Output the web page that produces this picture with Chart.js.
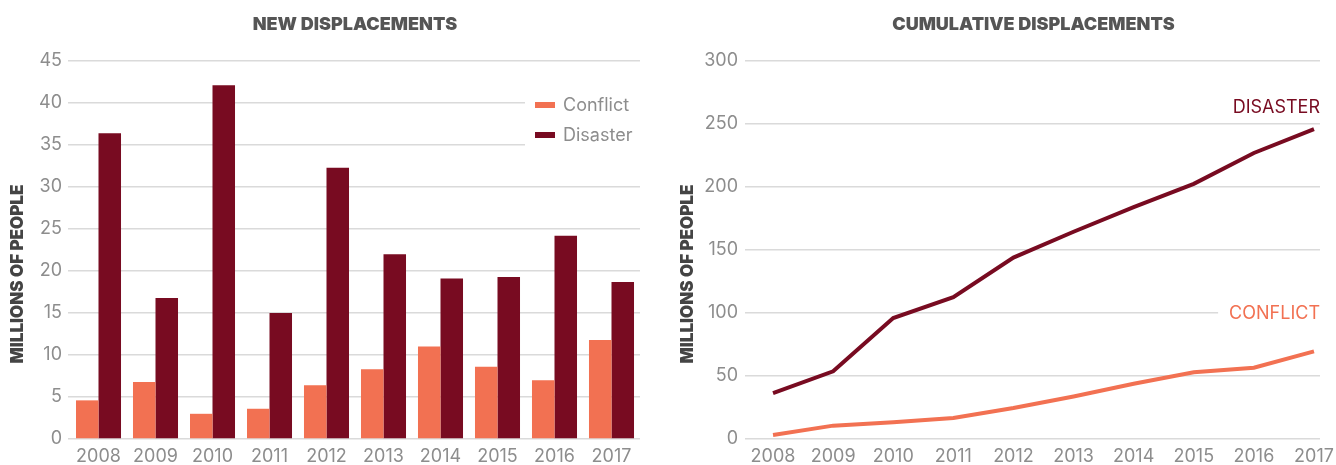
<!DOCTYPE html>
<html>
<head>
<meta charset="utf-8">
<title>Displacements</title>
<script src="https://cdn.jsdelivr.net/npm/chart.js@4.4.0/dist/chart.umd.min.js"></script>
<style>
  body { margin: 0; background: #fff; }
  .row { display: flex; width: 1336px; height: 465px; }
  .panel { position: relative; width: 668px; height: 465px; }
</style>
</head>
<body>
<div class="row">
  <div class="panel"><canvas id="newChart"></canvas></div>
  <div class="panel"><canvas id="cumChart"></canvas></div>
</div>
<script>
// data (millions of people)
const YEARS = [2008, 2009, 2010, 2011, 2012, 2013, 2014, 2015, 2016, 2017];
const NEW_CONFLICT = [4.6, 6.8, 3.0, 3.6, 6.4, 8.3, 11.0, 8.6, 7.0, 11.8];
const NEW_DISASTER = [36.4, 16.8, 42.1, 15.0, 32.3, 22.0, 19.1, 19.3, 24.2, 18.7];
const CUM_CONFLICT = [3.2, 10.6, 13.2, 16.7, 24.6, 33.8, 43.9, 52.9, 56.6, 69.5];
const CUM_DISASTER = [36.5, 53.7, 96.0, 112.5, 144.0, 164.5, 184.0, 202.5, 227.0, 246.0];
const NEW_TICKS = [0, 5, 10, 15, 20, 25, 30, 35, 40, 45];
const CUM_TICKS = [0, 50, 100, 150, 200, 250, 300];

const C_CONFLICT = '#f27152';
const C_DISASTER = '#780b21';
const GRID = '#dadada';
const TICK = '#8d8d8d';
const FONT = 'Inter, "Open Sans", sans-serif';

// heading above the plot + rotated axis title at the left
const panelTitle = {
  id: 'panelTitle',
  afterDraw(chart, args, o) {
    const { ctx, chartArea } = chart;
    ctx.save();
    ctx.fillStyle = o.color;
    ctx.textAlign = 'center';
    ctx.textBaseline = 'middle';
    ctx.font = o.font;
    ctx.fillText(o.text, (chartArea.left + chartArea.right) / 2, o.y);
    ctx.translate(o.axisX, (chartArea.top + chartArea.bottom) / 2 + o.axisShift);
    ctx.rotate(-Math.PI / 2);
    ctx.font = o.axisFont;
    ctx.fillStyle = o.axisColor;
    ctx.fillText(o.axisText, 0, 0);
    ctx.restore();
  }
};

// legend box sitting inside the plot, top right
const boxLegend = {
  id: 'boxLegend',
  beforeDatasetsDraw(chart, args, o) {
    if (!o.enabled) return;
    const { ctx, chartArea } = chart;
    ctx.save();
    ctx.fillStyle = '#fff';
    ctx.fillRect(o.x, o.y, chartArea.right - o.x + 2, o.rowH * chart.data.datasets.length + 6);
    ctx.font = o.font;
    ctx.textBaseline = 'middle';
    ctx.textAlign = 'left';
    chart.data.datasets.forEach((ds, i) => {
      const cy = o.y + o.first + i * o.rowH;
      ctx.fillStyle = ds.backgroundColor;
      ctx.fillRect(o.x + 10, cy - 3, 20, 6);
      ctx.fillStyle = TICK;
      ctx.fillText(ds.label, o.x + 38, cy + 1);
    });
    ctx.restore();
  }
};

// series names written at the right end of each line
const endLabels = {
  id: 'endLabels',
  beforeDatasetsDraw(chart, args, o) {
    if (!o.enabled) return;
    const { ctx, chartArea, scales } = chart;
    ctx.save();
    ctx.font = o.font;
    ctx.textAlign = 'right';
    ctx.textBaseline = 'middle';
    chart.data.datasets.forEach((ds, i) => {
      const y = scales.y.getPixelForValue(o.at[i]);
      const w = ctx.measureText(ds.label.toUpperCase()).width;
      ctx.fillStyle = '#fff';
      ctx.fillRect(chartArea.right - w - 11, y - 10, w + 13, 20);
      ctx.fillStyle = ds.borderColor;
      ctx.fillText(ds.label.toUpperCase(), chartArea.right, y + 1);
    });
    ctx.restore();
  }
};

Chart.register(panelTitle, boxLegend, endLabels);

const tickFont = { family: FONT, size: 18 };

new Chart(document.getElementById('newChart'), {
  type: 'bar',
  data: {
    labels: YEARS,
    datasets: [
      { label: 'Conflict', data: NEW_CONFLICT, backgroundColor: C_CONFLICT },
      { label: 'Disaster', data: NEW_DISASTER, backgroundColor: C_DISASTER }
    ]
  },
  options: {
    responsive: true,
    maintainAspectRatio: false,
    animation: false,
    datasets: { bar: { categoryPercentage: 0.79, barPercentage: 1.0 } },
    layout: { padding: { top: 61, right: 28, bottom: 0, left: 0 } },
    plugins: {
      legend: { display: false },
      tooltip: { enabled: false },
      panelTitle: {
        text: 'NEW DISPLACEMENTS', y: 25, font: `900 18px ${FONT}`, color: '#555',
        axisText: 'MILLIONS OF PEOPLE', axisX: 18, axisShift: 24,
        axisFont: `900 17px ${FONT}`, axisColor: '#444'
      },
      boxLegend: { enabled: true, x: 525, y: 89, first: 16, rowH: 30, font: `18px ${FONT}` },
      endLabels: { enabled: false }
    },
    scales: {
      x: {
        grid: { display: false, drawTicks: false },
        border: { display: false },
        ticks: { color: TICK, font: tickFont, padding: 7, maxRotation: 0, autoSkip: false },
        afterFit: s => { s.height = 26; }
      },
      y: {
        min: 0, max: 45,
        afterBuildTicks: s => { s.ticks = NEW_TICKS.map(v => ({ value: v })); },
        grid: { color: GRID, lineWidth: 1.5, drawTicks: true, tickLength: 2 },
        border: { display: false },
        ticks: { color: TICK, font: tickFont, padding: 6 },
        afterFit: s => { s.width = 70; }
      }
    }
  }
});

new Chart(document.getElementById('cumChart'), {
  type: 'line',
  data: {
    datasets: [
      { label: 'Disaster', data: YEARS.map((yr, i) => ({ x: yr, y: CUM_DISASTER[i] })),
        borderColor: C_DISASTER, backgroundColor: C_DISASTER },
      { label: 'Conflict', data: YEARS.map((yr, i) => ({ x: yr, y: CUM_CONFLICT[i] })),
        borderColor: C_CONFLICT, backgroundColor: C_CONFLICT }
    ]
  },
  options: {
    responsive: true,
    maintainAspectRatio: false,
    animation: false,
    elements: {
      line: { borderWidth: 4, tension: 0, borderCapStyle: 'butt' },
      point: { radius: 0 }
    },
    layout: { padding: { top: 61, right: 16, bottom: 0, left: 0 } },
    plugins: {
      legend: { display: false },
      tooltip: { enabled: false },
      panelTitle: {
        text: 'CUMULATIVE DISPLACEMENTS', y: 25, font: `900 18px ${FONT}`, color: '#555',
        axisText: 'MILLIONS OF PEOPLE', axisX: 20, axisShift: 24,
        axisFont: `900 17px ${FONT}`, axisColor: '#444'
      },
      boxLegend: { enabled: false },
      endLabels: { enabled: true, at: [264, 100], font: `18px ${FONT}` }
    },
    scales: {
      x: {
        type: 'linear',
        min: 2007.567, max: 2017.1,
        afterBuildTicks: s => { s.ticks = YEARS.map(v => ({ value: v })); },
        grid: { display: false, drawTicks: false },
        border: { display: false },
        ticks: { color: TICK, font: tickFont, padding: 7, maxRotation: 0, autoSkip: false,
                 callback: v => String(v) },
        afterFit: s => { s.height = 26; s.paddingLeft = 0; s.paddingRight = 0; }
      },
      y: {
        min: 0, max: 300,
        afterBuildTicks: s => { s.ticks = CUM_TICKS.map(v => ({ value: v })); },
        grid: { color: GRID, lineWidth: 1.5, drawTicks: true, tickLength: 2 },
        border: { display: false },
        ticks: { color: TICK, font: tickFont, padding: 7 },
        afterFit: s => { s.width = 79; }
      }
    }
  }
});
</script>
</body>
</html>
